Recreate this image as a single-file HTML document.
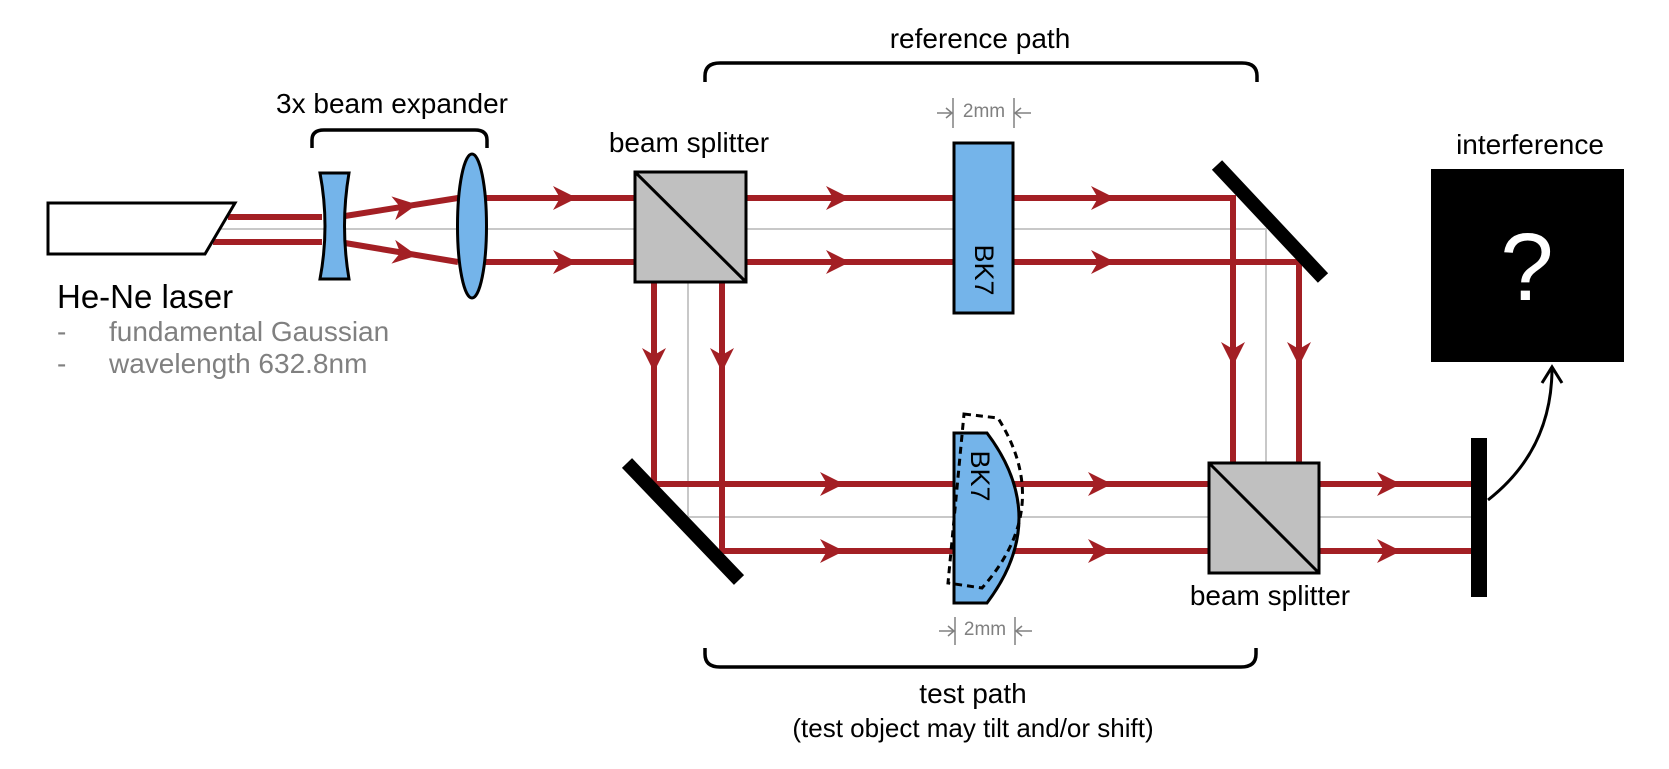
<!DOCTYPE html>
<html><head><meta charset="utf-8"><style>
html,body{margin:0;padding:0;background:#fff;}
svg{display:block;}
text{font-family:"Liberation Sans",Arial,sans-serif;}
</style></head><body>
<svg width="1669" height="769" viewBox="0 0 1669 769" xmlns="http://www.w3.org/2000/svg">
<defs>
<path id="ar" d="M0,0 L-24,-12 L-17,0 L-24,12 Z" fill="#a31f24"/>
</defs>
<g stroke="#c8c8c8" stroke-width="2" fill="none">
<path d="M215,229 H1266 V463"/>
<path d="M688,282 V517 H1471"/>
</g>
<g stroke="#a31f24" stroke-width="6" fill="none">
<path d="M228,217 H322"/>
<path d="M213,242 H322"/>
<path d="M345,216 L458,198"/>
<path d="M345,243 L458,262"/>
<path d="M480,198 H1233 V463"/>
<path d="M480,262 H1299 V463"/>
<path d="M654,282 V484 H1471"/>
<path d="M722,282 V551 H1471"/>
</g>
<use href="#ar" transform="translate(417,204.5) rotate(-9)"/>
<use href="#ar" transform="translate(417,255.5) rotate(9)"/>
<use href="#ar" transform="translate(577,198)"/>
<use href="#ar" transform="translate(577,262)"/>
<use href="#ar" transform="translate(850,198)"/>
<use href="#ar" transform="translate(850,262)"/>
<use href="#ar" transform="translate(1115,198)"/>
<use href="#ar" transform="translate(1115,262)"/>
<use href="#ar" transform="translate(654,372) rotate(90)"/>
<use href="#ar" transform="translate(722,372) rotate(90)"/>
<use href="#ar" transform="translate(1233,366) rotate(90)"/>
<use href="#ar" transform="translate(1299,366) rotate(90)"/>
<use href="#ar" transform="translate(844,484)"/>
<use href="#ar" transform="translate(844,551)"/>
<use href="#ar" transform="translate(1112,484)"/>
<use href="#ar" transform="translate(1112,551)"/>
<use href="#ar" transform="translate(1401,484)"/>
<use href="#ar" transform="translate(1401,551)"/>
<polygon points="48,203 235,203 205,254 48,254" fill="#fff" stroke="#000" stroke-width="3"/>
<path d="M320,173 H349 Q340,226 349,279 H320 Q330,226 320,173 Z" fill="#74b4ea" stroke="#000" stroke-width="3"/>
<ellipse cx="472" cy="226" rx="14.5" ry="72" fill="#74b4ea" stroke="#000" stroke-width="3"/>
<g fill="#c0c0c0" stroke="#000" stroke-width="3">
<rect x="635" y="172" width="111" height="110"/>
<line x1="635" y1="172" x2="746" y2="282"/>
<rect x="1209" y="463" width="110" height="110"/>
<line x1="1209" y1="463" x2="1319" y2="573"/>
</g>
<g stroke="#000" stroke-width="14">
<line x1="1217" y1="165" x2="1323" y2="278"/>
<line x1="627" y1="463" x2="739" y2="580"/>
</g>
<rect x="1471" y="438" width="16" height="159" fill="#000"/>
<rect x="954" y="143" width="59" height="170" fill="#74b4ea" stroke="#000" stroke-width="3"/>
<text x="984" y="270" font-size="27" text-anchor="middle" dominant-baseline="central" transform="rotate(90 984 270)">BK7</text>
<path d="M954,433 H987 Q1051,518 987,603 H954 Z" fill="#74b4ea" stroke="#000" stroke-width="3"/>
<path d="M964,414 L998,418 Q1054,507 982,588 L948,583 Z" fill="none" stroke="#000" stroke-width="3" stroke-dasharray="7,5"/>
<text x="980" y="476" font-size="27" text-anchor="middle" dominant-baseline="central" transform="rotate(90 980 476)">BK7</text>
<g stroke="#808080" stroke-width="1.5" fill="none">
<path d="M953,98 V128 M1014,98 V128 M937,113 H952 M946,108 L952,113 L946,118 M1031,113 H1015 M1021,108 L1015,113 L1021,118"/>
<path d="M955,617 V645 M1015,617 V645 M939,631 H954 M948,626 L954,631 L948,636 M1032,631 H1016 M1022,626 L1016,631 L1022,636"/>
</g>
<text x="984" y="117" font-size="19" fill="#808080" text-anchor="middle">2mm</text>
<text x="985" y="635" font-size="19" fill="#808080" text-anchor="middle">2mm</text>
<rect x="1431" y="169" width="193" height="193" fill="#000"/>
<text x="1527" y="300" font-size="96" fill="#fff" text-anchor="middle">?</text>
<path d="M1488,500 Q1552,450 1552,368" fill="none" stroke="#000" stroke-width="3"/>
<path d="M1542,383 L1552,367 L1562,383" fill="none" stroke="#000" stroke-width="3"/>
<g fill="none" stroke="#000" stroke-width="3.5">
<path d="M312,148 V140 Q312,130 324,130 H475 Q487,130 487,140 V148"/>
<path d="M705,82 V76 Q705,63 720,63 H1242 Q1257,63 1257,76 V82"/>
<path d="M705,648 V654 Q705,667 720,667 H1241 Q1256,667 1256,654 V648"/>
</g>
<g font-size="28" fill="#000">
<text x="392" y="113" text-anchor="middle">3x beam expander</text>
<text x="980" y="48" text-anchor="middle">reference path</text>
<text x="689" y="152" text-anchor="middle">beam splitter</text>
<text x="1270" y="605" text-anchor="middle">beam splitter</text>
<text x="1530" y="154" text-anchor="middle">interference</text>
<text x="973" y="703" text-anchor="middle">test path</text>
<text x="57" y="308" font-size="33">He-Ne laser</text>
</g>
<text x="973" y="737" font-size="26" text-anchor="middle">(test object may tilt and/or shift)</text>
<g font-size="28" fill="#808080">
<text x="57" y="341">-</text><text x="109" y="341">fundamental Gaussian</text>
<text x="57" y="373">-</text><text x="109" y="373">wavelength 632.8nm</text>
</g>
</svg>
</body></html>
